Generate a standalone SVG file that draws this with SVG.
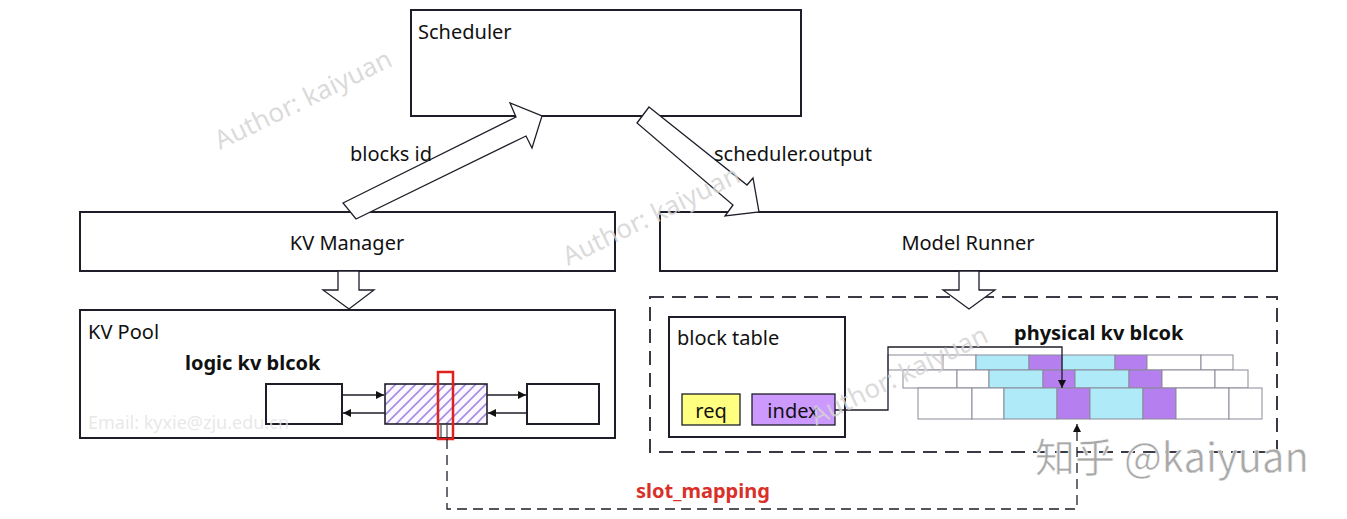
<svg xmlns="http://www.w3.org/2000/svg" width="1347" height="519" viewBox="0 0 1347 519">
<style>
.box{fill:#fff;stroke:#1e1e2a;stroke-width:2}
.t{font-family:"Noto Sans","Open Sans",sans-serif;font-size:20px;fill:#111}
.b{font-family:"Noto Sans","Open Sans",sans-serif;font-size:20px;font-weight:bold;fill:#111}
.hollow{fill:#fff;stroke:#1e1e2a;stroke-width:1.3}
.wm{font-family:"Noto Sans","Open Sans",sans-serif;fill:#d4d4d4;fill-opacity:0.85}
.cell{stroke:#8a8a99;stroke-width:1}
.w{fill:#fff}.c{fill:#aeeaf8}.p{fill:#b57ff0}
.ln{fill:none;stroke:#1e1e2a;stroke-width:1.3}
</style>
<defs>
<pattern id="hatch" patternUnits="userSpaceOnUse" width="10" height="10">
<rect width="10" height="10" fill="#fbf9ff"/>
<path d="M-2,2 L2,-2 M0,10 L10,0 M8,12 L12,8" stroke="#a68be6" stroke-width="1.6"/>
</pattern>
<marker id="ah" viewBox="0 0 10 10" refX="10" refY="5" markerWidth="8" markerHeight="8" markerUnits="userSpaceOnUse" orient="auto">
<path d="M0,0 L10,5 L0,10 z" fill="#111"/>
</marker>
</defs>

<g id="scheduler">
<rect class="box" x="411" y="10" width="390" height="106"/>
<text class="t" x="418" y="39">Scheduler</text>
</g>

<g id="kv-manager">
<rect class="box" x="80" y="212" width="535" height="59"/>
<text class="t" x="347" y="250" text-anchor="middle">KV Manager</text>
</g>

<g id="model-runner">
<rect class="box" x="660" y="212" width="617" height="59"/>
<text class="t" x="968" y="250" text-anchor="middle">Model Runner</text>
</g>

<g id="kv-pool">
<rect class="box" x="80" y="310" width="535" height="128"/>
<text class="t" x="88" y="339">KV Pool</text>
<text class="b" x="185" y="370">logic kv blcok</text>
</g>

<g id="logic-block-1">
<rect class="box" x="266" y="384" width="76" height="40" stroke-width="1.6"/>
</g>
<g id="logic-block-2">
<rect x="385" y="384" width="102" height="40" fill="url(#hatch)" stroke="#1e1e2a" stroke-width="1.6"/>
</g>
<g id="logic-block-3">
<rect class="box" x="527" y="384" width="72" height="40" stroke-width="1.6"/>
</g>
<g id="slot">
<rect x="438" y="372" width="15" height="67" fill="none" stroke="#e0201c" stroke-width="2.5"/>
</g>

<g id="gpu-area">
<rect x="650" y="297" width="627" height="155" fill="none" stroke="#3a3a44" stroke-width="2" stroke-dasharray="14 8"/>
</g>

<g id="block-table">
<rect class="box" x="669" y="317" width="176" height="120"/>
<text class="t" x="677" y="345">block table</text>
</g>
<g id="req">
<rect x="682" y="394" width="58" height="31" fill="#ffff80" stroke="#1e1e2a" stroke-width="1.3"/>
<text class="t" x="711" y="418" text-anchor="middle">req</text>
</g>
<g id="index">
<rect x="752" y="394" width="83" height="31" fill="#cc99ff" stroke="#1e1e2a" stroke-width="1.3"/>
<text class="t" x="793" y="418" text-anchor="middle">index</text>
</g>

<g id="physical-kv">
<text class="b" x="1014" y="340">physical kv blcok</text>
<rect class="cell w" x="888" y="355" width="55" height="15"/>
<rect class="cell w" x="943" y="355" width="33" height="15"/>
<rect class="cell c" x="976" y="355" width="53" height="15"/>
<rect class="cell p" x="1029" y="355" width="33" height="15"/>
<rect class="cell c" x="1062" y="355" width="53" height="15"/>
<rect class="cell p" x="1115" y="355" width="32" height="15"/>
<rect class="cell w" x="1147" y="355" width="54" height="15"/>
<rect class="cell w" x="1201" y="355" width="32" height="15"/>
<rect class="cell w" x="903" y="370" width="54" height="18"/>
<rect class="cell w" x="957" y="370" width="32" height="18"/>
<rect class="cell c" x="989" y="370" width="54" height="18"/>
<rect class="cell p" x="1043" y="370" width="32" height="18"/>
<rect class="cell c" x="1075" y="370" width="54" height="18"/>
<rect class="cell p" x="1129" y="370" width="33" height="18"/>
<rect class="cell w" x="1162" y="370" width="53" height="18"/>
<rect class="cell w" x="1215" y="370" width="33" height="18"/>
<rect class="cell w" x="918" y="388" width="54" height="31"/>
<rect class="cell w" x="972" y="388" width="32" height="31"/>
<rect class="cell c" x="1004" y="388" width="53" height="31"/>
<rect class="cell p" x="1057" y="388" width="33" height="31"/>
<rect class="cell c" x="1090" y="388" width="53" height="31"/>
<rect class="cell p" x="1143" y="388" width="33" height="31"/>
<rect class="cell w" x="1176" y="388" width="53" height="31"/>
<rect class="cell w" x="1229" y="388" width="33" height="31"/>
</g>

<g id="connectors">
<path class="hollow" d="M343,203 L516,117 L510,103 L542,116 L532,148 L526,136 L356,219 Z"/>
<text class="t" x="350" y="161">blocks id</text>
<path class="hollow" d="M649,107 L747,185 L753,178 L759,212 L725,216 L733,205 L637,123 Z"/>
<text class="t" x="714" y="161">scheduler.output</text>
<path class="hollow" d="M338,271 L359,271 L359,290 L374,290 L349,309 L323,290 L338,290 Z"/>
<path class="hollow" d="M959,271 L979,271 L979,290 L995,290 L969,309 L943,290 L959,290 Z"/>
<line class="ln" x1="342" y1="395" x2="384" y2="395" marker-end="url(#ah)"/>
<line class="ln" x1="385" y1="413" x2="343" y2="413" marker-end="url(#ah)"/>
<line class="ln" x1="487" y1="395" x2="526" y2="395" marker-end="url(#ah)"/>
<line class="ln" x1="527" y1="413" x2="488" y2="413" marker-end="url(#ah)"/>
<path class="ln" d="M835,410 L888,410 L888,347 L1062,347 L1062,388" marker-end="url(#ah)"/>
<line x1="441" y1="425" x2="441" y2="438" stroke="#1e1e2a" stroke-width="1"/>
<line x1="447" y1="425" x2="447" y2="438" stroke="#1e1e2a" stroke-width="1"/>
<path d="M447,439 L447,509 L1077,509 L1077,424" fill="none" stroke="#1e1e2a" stroke-width="1.3" stroke-dasharray="10 6" marker-end="url(#ah)"/>
<text class="b" x="636" y="498" style="fill:#d9302a">slot_mapping</text>
</g>

<g id="watermarks">
<text class="wm" font-size="26" transform="translate(220,150) rotate(-26)">Author:  kaiyuan</text>
<text class="wm" font-size="26" transform="translate(568,266) rotate(-26)">Author:  kaiyuan</text>
<text class="wm" font-size="26" transform="translate(816,426) rotate(-26)">Author:  kaiyuan</text>
<text class="wm" font-size="18" x="88" y="429" style="fill:#e4e4e4">Email:  kyxie@zju.edu.cn</text>
<text x="1035" y="472" font-family="'Noto Sans CJK SC','Noto Sans',sans-serif" font-size="40" fill="#a8a8a8" stroke="#fff" stroke-width="0.6">知乎 @kaiyuan</text>
</g>
</svg>
